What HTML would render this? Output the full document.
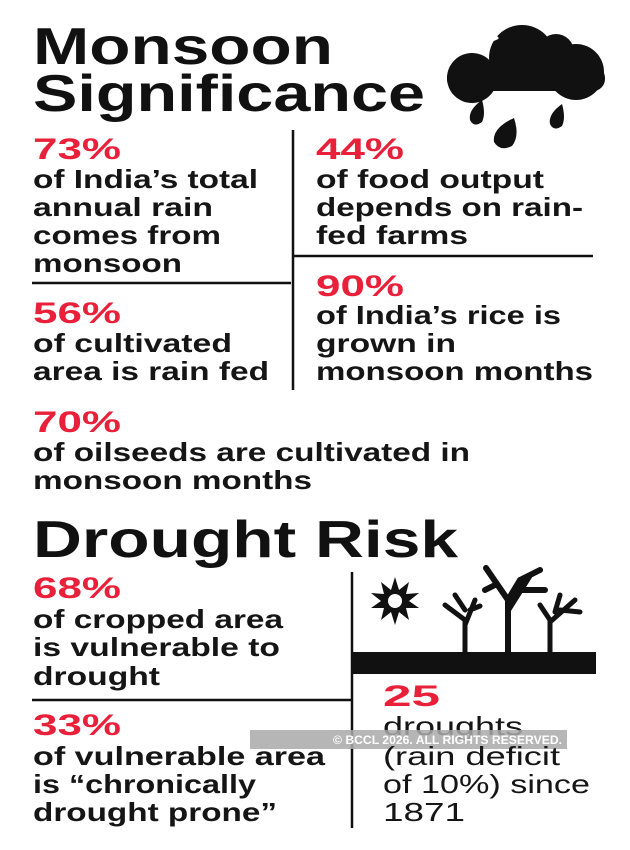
<!DOCTYPE html>
<html><head><meta charset="utf-8"><style>
html,body{margin:0;padding:0;background:#fff;}
svg{display:block;}
text{font-family:"Liberation Sans",sans-serif;font-weight:bold;}
.t{font-size:52px;fill:#111;}
.r{font-size:30px;fill:#e8203a;}
.b{font-size:26px;fill:#151515;}
.n{font-size:26px;fill:#151515;font-weight:normal;}
</style></head><body>
<svg width="630" height="850" viewBox="0 0 630 850" xmlns="http://www.w3.org/2000/svg">
<rect width="630" height="850" fill="#fff"/>
<text class="t" x="33" y="64" textLength="300" lengthAdjust="spacingAndGlyphs">Monsoon</text>
<text class="t" x="33" y="111" textLength="392" lengthAdjust="spacingAndGlyphs">Significance</text>
<!-- cloud -->
<g fill="#111">
<circle cx="522" cy="58" r="33"/><circle cx="472" cy="78" r="25"/><circle cx="576" cy="72" r="28"/>
<circle cx="556" cy="52" r="18"/>
<rect x="447" y="66" width="158" height="25" rx="12"/>
<path d="M482 100 q-14 10 -12 20 q4 8 12 2 q4 -8 0 -22 z"/>
<path d="M562 104 q-14 10 -12 20 q4 8 12 2 q4 -8 0 -22 z"/>
<path d="M514 118 q-22 10 -20 24 q6 10 18 4 q8 -10 2 -28 z"/>
</g>
<path d="M483 50 q5-9 14-12" stroke="#fff" stroke-width="3" fill="none" stroke-linecap="round"/>
<!-- lines -->
<g stroke="#111" stroke-width="2.5">
<line x1="293" y1="130" x2="293" y2="390"/>
<line x1="32" y1="283" x2="291" y2="283"/>
<line x1="294" y1="256" x2="593" y2="256"/>
<line x1="352" y1="572" x2="352" y2="828"/>
<line x1="32" y1="700" x2="352" y2="700"/>
</g>
<text class="r" x="33" y="159" textLength="88" lengthAdjust="spacingAndGlyphs">73%</text>
<text class="b" x="33" y="188" textLength="225" lengthAdjust="spacingAndGlyphs">of India’s total</text>
<text class="b" x="33" y="216" textLength="180" lengthAdjust="spacingAndGlyphs">annual rain</text>
<text class="b" x="33" y="244" textLength="188" lengthAdjust="spacingAndGlyphs">comes from</text>
<text class="b" x="33" y="272" textLength="149" lengthAdjust="spacingAndGlyphs">monsoon</text>
<text class="r" x="316" y="159" textLength="88" lengthAdjust="spacingAndGlyphs">44%</text>
<text class="b" x="316" y="188" textLength="228" lengthAdjust="spacingAndGlyphs">of food output</text>
<text class="b" x="316" y="216" textLength="267" lengthAdjust="spacingAndGlyphs">depends on rain-</text>
<text class="b" x="316" y="244" textLength="152" lengthAdjust="spacingAndGlyphs">fed farms</text>
<text class="r" x="316" y="296" textLength="88" lengthAdjust="spacingAndGlyphs">90%</text>
<text class="b" x="316" y="324" textLength="245" lengthAdjust="spacingAndGlyphs">of India’s rice is</text>
<text class="b" x="316" y="352" textLength="140" lengthAdjust="spacingAndGlyphs">grown in</text>
<text class="b" x="316" y="380" textLength="277" lengthAdjust="spacingAndGlyphs">monsoon months</text>
<text class="r" x="33" y="323" textLength="88" lengthAdjust="spacingAndGlyphs">56%</text>
<text class="b" x="33" y="352" textLength="199" lengthAdjust="spacingAndGlyphs">of cultivated</text>
<text class="b" x="33" y="380" textLength="236" lengthAdjust="spacingAndGlyphs">area is rain fed</text>
<text class="r" x="33" y="432" textLength="88" lengthAdjust="spacingAndGlyphs">70%</text>
<text class="b" x="33" y="461" textLength="437" lengthAdjust="spacingAndGlyphs">of oilseeds are cultivated in</text>
<text class="b" x="33" y="489" textLength="279" lengthAdjust="spacingAndGlyphs">monsoon months</text>
<text class="t" x="33" y="557" textLength="425" lengthAdjust="spacingAndGlyphs">Drought Risk</text>
<!-- sun -->
<g fill="#111">
<polygon points="395,577 399,590 409,582 406,594 419,593 409,601 419,608 406,608 409,620 399,612 395,625 391,612 381,620 384,608 371,608 381,601 371,593 384,594 381,582 391,590"/>
</g>
<circle cx="395" cy="601" r="7" fill="#fff"/>
<!-- trees -->
<g stroke="#111" stroke-linecap="round" fill="none">
<path d="M508 652 V600 L486 568 M508 610 L530 575 M508 600 L520 580 L540 570 M495 585 L485 590 M520 590 L545 590" stroke-width="6"/>
<path d="M465 652 V620 L445 605 M465 625 L475 600 M465 610 L455 595 M470 610 L480 606" stroke-width="5"/>
<path d="M550 652 V620 L540 605 M550 622 L575 600 M555 612 L560 595 M560 610 L580 612" stroke-width="5"/>
</g>
<rect x="352" y="652" width="244" height="22" fill="#111"/>
<text class="r" x="33" y="598" textLength="88" lengthAdjust="spacingAndGlyphs">68%</text>
<text class="b" x="33" y="628" textLength="250" lengthAdjust="spacingAndGlyphs">of cropped area</text>
<text class="b" x="33" y="656" textLength="247" lengthAdjust="spacingAndGlyphs">is vulnerable to</text>
<text class="b" x="33" y="685" textLength="127" lengthAdjust="spacingAndGlyphs">drought</text>
<text class="r" x="33" y="735" textLength="88" lengthAdjust="spacingAndGlyphs">33%</text>
<text class="b" x="33" y="765" textLength="292" lengthAdjust="spacingAndGlyphs">of vulnerable area</text>
<text class="b" x="33" y="793" textLength="223" lengthAdjust="spacingAndGlyphs">is “chronically</text>
<text class="b" x="33" y="821" textLength="244" lengthAdjust="spacingAndGlyphs">drought prone”</text>
<text class="r" x="383" y="706" textLength="57" lengthAdjust="spacingAndGlyphs">25</text>
<text class="n" x="383" y="735" textLength="140" lengthAdjust="spacingAndGlyphs">droughts</text>
<rect x="250" y="730" width="317" height="19" fill="#a9a9a9" opacity="0.85"/>
<text x="333" y="744" font-size="12" fill="#fff" textLength="229" lengthAdjust="spacingAndGlyphs">© BCCL 2026. ALL RIGHTS RESERVED.</text>
<text class="n" x="383" y="765" textLength="177" lengthAdjust="spacingAndGlyphs">(rain deficit</text>
<text class="n" x="383" y="793" textLength="207" lengthAdjust="spacingAndGlyphs">of 10%) since</text>
<text class="n" x="383" y="821" textLength="82" lengthAdjust="spacingAndGlyphs">1871</text>
</svg>
</body></html>
